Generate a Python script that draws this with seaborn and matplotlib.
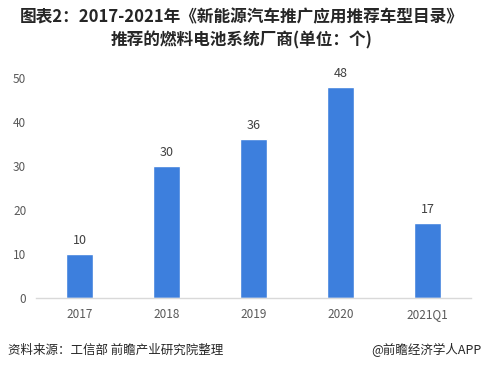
import numpy as np
import pandas as pd
import seaborn as sns
import matplotlib
matplotlib.use("Agg")
import matplotlib.pyplot as plt

years = ["2017", "2018", "2019", "2020", "2021Q1"]
counts = [10, 30, 36, 48, 17]
y_ticks = [0, 10, 20, 30, 40, 50]

title = "图表2：2017-2021年《新能源汽车推广应用推荐车型目录》\n推荐的燃料电池系统厂商(单位：个)"
source = "资料来源：工信部 前瞻产业研究院整理"
brand = "@前瞻经济学人APP"

sns.set_style("white")
plt.rcParams['font.family'] = ['Noto Sans CJK SC', 'DejaVu Sans']

df = pd.DataFrame({"year": years, "count": counts})

fig = plt.figure(figsize=(4.83, 3.73), dpi=100)
ax = fig.add_axes([0.0745, 0.201, 0.9005, 0.614])

sns.barplot(data=df, x="year", y="count", color="#3D7FDD", width=0.31,
            saturation=1, ax=ax)

# value labels above bars
for i, v in enumerate(counts):
    ax.text(i, v + 1.6, str(v), ha="center", va="bottom", fontsize=9,
            color="#404040", clip_on=False)

ax.set_xlim(-0.5, 4.5)
ax.set_ylim(0, 52)
ax.set_yticks(y_ticks)
ax.set_xlabel("")
ax.set_ylabel("")
ax.tick_params(axis="both", length=0, labelsize=8.5, colors="#595959")
ax.tick_params(axis="y", pad=7)
ax.tick_params(axis="x", pad=7)

for side in ["top", "right", "left"]:
    ax.spines[side].set_visible(False)
ax.spines["bottom"].set_color("#D9D9D9")
ax.spines["bottom"].set_linewidth(1)

fig.text(0.5, 0.978, title, ha="center", va="top", fontsize=12,
         fontweight="bold", color="#262626", linespacing=1.35)
fig.text(0.016, 0.062, source, ha="left", va="center", fontsize=9, color="#262626")
fig.text(0.997, 0.062, brand, ha="right", va="center", fontsize=9, color="#262626")

fig.savefig("out.png", dpi=100)
